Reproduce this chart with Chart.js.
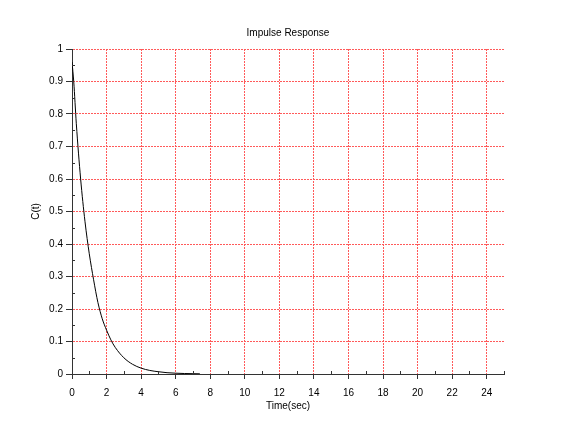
<!DOCTYPE html>
<html>
<head>
<meta charset="utf-8">
<script src="https://cdn.jsdelivr.net/npm/chart.js@4/dist/chart.umd.min.js"></script>
<style>
  html, body { margin: 0; padding: 0; background: #ffffff; }
  #wrap { width: 576px; height: 434px; position: relative; }
</style>
</head>
<body>
<div id="wrap"><canvas id="c"></canvas></div>
<script>
// Values
const timeValues = [0, 0.1, 0.25, 0.5, 0.75, 1, 1.25, 1.5, 1.75, 2, 2.25, 2.5, 3, 3.5, 4, 4.5, 5, 5.5, 6, 6.5, 7, 7.4];
const responseValues = [0.96, 0.9, 0.77, 0.6, 0.47, 0.37, 0.29, 0.22, 0.17, 0.135, 0.105, 0.082, 0.05, 0.03, 0.018, 0.011, 0.007, 0.004, 0.0025, 0.0015, 0.001, 0.0006];
const xTickValues = [0, 2, 4, 6, 8, 10, 12, 14, 16, 18, 20, 22, 24];
const xMinorTicks = [1, 3, 5, 7, 9, 11, 13, 15, 17, 19, 21, 23, 25];
const yMinorTicks = [0.05, 0.15, 0.25, 0.35, 0.45, 0.55, 0.65, 0.75, 0.85, 0.95];

const titleText = 'Impulse Response';
const xTitle = 'Time(sec)';
const yTitle = 'C(t)';

const points = timeValues.map((t, i) => ({ x: t, y: responseValues[i] }));
const FONT = 'Liberation Sans, Arial, Helvetica, sans-serif';
const GRID = '#ff5a5a';

const minorTicksPlugin = {
  id: 'minorTicks',
  afterDraw(chart) {
    const ctx = chart.ctx;
    const xs = chart.scales.x, ys = chart.scales.y;
    const area = chart.chartArea;
    ctx.save();
    ctx.strokeStyle = '#333333';
    ctx.lineWidth = 1;
    ctx.beginPath();
    xMinorTicks.forEach(v => {
      const px = Math.round(xs.getPixelForValue(v)) + 0.5;
      ctx.moveTo(px, area.bottom);
      ctx.lineTo(px, area.bottom - 3);
    });
    yMinorTicks.forEach(v => {
      const py = Math.round(ys.getPixelForValue(v)) + 0.5;
      ctx.moveTo(area.left, py);
      ctx.lineTo(area.left + 3, py);
    });
    ctx.stroke();
    ctx.restore();
  }
};

new Chart(document.getElementById('c'), {
  type: 'line',
  data: {
    datasets: [{
      data: points,
      borderColor: '#000000',
      borderWidth: 1,
      pointRadius: 0,
      fill: false,
      cubicInterpolationMode: 'monotone'
    }]
  },
  options: {
    responsive: true,
    maintainAspectRatio: false,
    animation: false,
    events: [],
    devicePixelRatio: 1,
    layout: { padding: { top: 0, right: 72, bottom: 0, left: 0 } },
    plugins: {
      legend: { display: false },
      tooltip: { enabled: false },
      title: {
        display: true,
        fullSize: false,
        text: titleText,
        color: '#000000',
        font: { family: FONT, size: 10, weight: 'normal', lineHeight: 1.2 },
        padding: { top: 27, bottom: 10 }
      }
    },
    scales: {
      x: {
        type: 'linear',
        min: 0,
        max: 25,
        afterBuildTicks(scale) {
          scale.ticks = xTickValues.map(v => ({ value: v }));
        },
        afterFit(scale) { scale.height = 60; },
        ticks: {
          color: '#000000',
          font: { family: FONT, size: 10 },
          padding: 8,
          maxRotation: 0,
          autoSkip: false,
          callback: v => String(v)
        },
        grid: {
          color: GRID,
          lineWidth: 1,
          tickColor: '#333333',
          tickLength: 5,
          drawOnChartArea: true
        },
        border: { display: true, color: '#333333', width: 1, dash: [2, 1] },
        title: {
          display: true,
          text: xTitle,
          color: '#000000',
          font: { family: FONT, size: 10, lineHeight: 1.2 },
          padding: { top: 4, bottom: 22 }
        }
      },
      y: {
        type: 'linear',
        min: 0,
        max: 1,
        afterFit(scale) { scale.width = 72; },
        ticks: {
          stepSize: 0.1,
          color: '#000000',
          font: { family: FONT, size: 10 },
          padding: 3,
          callback: v => String(Number(v.toFixed(2)))
        },
        grid: {
          color: GRID,
          lineWidth: 1,
          tickColor: '#333333',
          tickLength: 6
        },
        border: { display: true, color: '#333333', width: 1, dash: [2, 1] },
        title: {
          display: true,
          text: yTitle,
          color: '#000000',
          font: { family: FONT, size: 10, lineHeight: 1.2 },
          padding: { top: 30, bottom: 0 }
        }
      }
    }
  },
  plugins: [minorTicksPlugin]
});
</script>
</body>
</html>
